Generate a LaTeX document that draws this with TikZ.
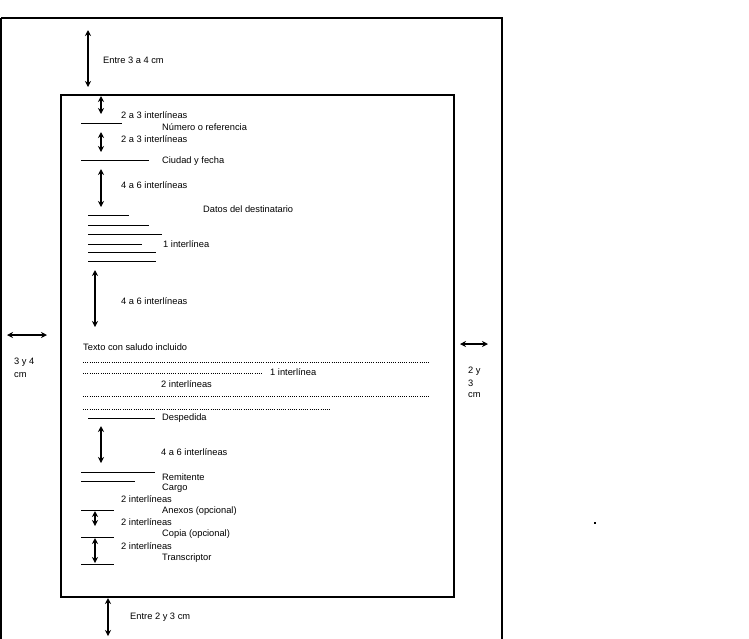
\documentclass[tikz,border=0pt]{standalone}
\usepackage{fontspec}
\setmainfont{Liberation Sans}
\usetikzlibrary{arrows.meta}
\begin{document}
\begin{tikzpicture}[x=1pt,y=-1pt,
    lbl/.style={anchor=west,inner sep=0pt,font=\fontsize{9.3}{10}\selectfont},
    gap/.style={line width=1.6pt,{Stealth[length=6pt,width=6pt]}-{Stealth[length=6pt,width=6pt]}},
    rule/.style={line width=0.6pt},
    dots/.style={line width=0.6pt,dotted,dash pattern=on 0.6pt off 1.6pt}]
\useasboundingbox (0,0) rectangle (749,638);
% hojas
\draw[line width=1.2pt] (1,18) -- (502,18) -- (502,640) (1,18) -- (1,640);
\draw[line width=1.6pt] (61,95) rectangle (454,597);
% margenes
\draw[gap] (88,30) -- (88,87);
\node[lbl] (sup) at (103,60) {Entre 3 a 4 cm};
\draw[gap] (108,598) -- (108,636);
\node[lbl] (inf) at (130,617) {Entre 2 y 3 cm};
\draw[gap] (7,335) -- (47,335);
\node[lbl] (izq) at (14,362) {3 y 4};
\node[lbl] (izq2) at (14,375) {cm};
\draw[gap] (460,344) -- (488,344);
\node[lbl] (der) at (468,371) {2 y};
\node[lbl] (der2) at (468,383) {3};
\node[lbl] (der3) at (468,395) {cm};
\node[inner sep=0.6pt,fill] (pto) at (595,523) {};
% encabezado
\draw[gap] (101,96) -- (101,114);
\node[lbl] (i1) at (121,115) {2 a 3 interlíneas};
\draw[rule] (81,123) -- (122,123);
\node[lbl] (num) at (162,127) {Número o referencia};
\draw[gap] (101,132) -- (101,152);
\node[lbl] (i2) at (121,139) {2 a 3 interlíneas};
\draw[rule] (81,160) -- (149,160);
\node[lbl] (fecha) at (162,161) {Ciudad y fecha};
\draw[gap] (101,169) -- (101,207);
\node[lbl] (i3) at (121,185) {4 a 6 interlíneas};
\node[lbl] (dest) at (203,209) {Datos del destinatario};
\foreach \y/\x in {215/129,225/149,234/162,244/142,252/156,261/156}
  \draw[rule] (88,\y) -- (\x,\y);
\node[lbl] (i4) at (163,244) {1 interlínea};
\draw[gap] (95,270) -- (95,327);
\node[lbl] (i5) at (121,301) {4 a 6 interlíneas};
% cuerpo
\node[lbl] (texto) at (83,347) {Texto con saludo incluido};
\draw[dots] (83,362) -- (430,362);
\draw[dots] (83,373) -- (263,373);
\node[lbl] (i6) at (270,372) {1 interlínea};
\node[lbl] (i7) at (161,384) {2 interlíneas};
\draw[dots] (83,396) -- (430,396);
\draw[dots] (83,409) -- (330,409);
\draw[rule] (88,418) -- (155,418);
\node[lbl] (desp) at (162,418) {Despedida};
\draw[gap] (101,426) -- (101,463);
\node[lbl] (i8) at (161,452) {4 a 6 interlíneas};
% cierre
\draw[rule] (81,472) -- (155,472);
\node[lbl] (rem) at (162,477) {Remitente};
\draw[rule] (81,481) -- (135,481);
\node[lbl] (cargo) at (162,488) {Cargo};
\node[lbl] (i9) at (121,499) {2 interlíneas};
\draw[rule] (81,510) -- (114,510);
\node[lbl] (anx) at (162,511) {Anexos (opcional)};
\draw[gap] (95,511) -- (95,526);
\node[lbl] (i10) at (121,522) {2 interlíneas};
\draw[rule] (81,537) -- (114,537);
\node[lbl] (cop) at (162,534) {Copia (opcional)};
\draw[gap] (95,538) -- (95,563);
\node[lbl] (i11) at (121,546) {2 interlíneas};
\node[lbl] (trans) at (162,558) {Transcriptor};
\draw[rule] (81,564) -- (114,564);
\end{tikzpicture}
\end{document}
